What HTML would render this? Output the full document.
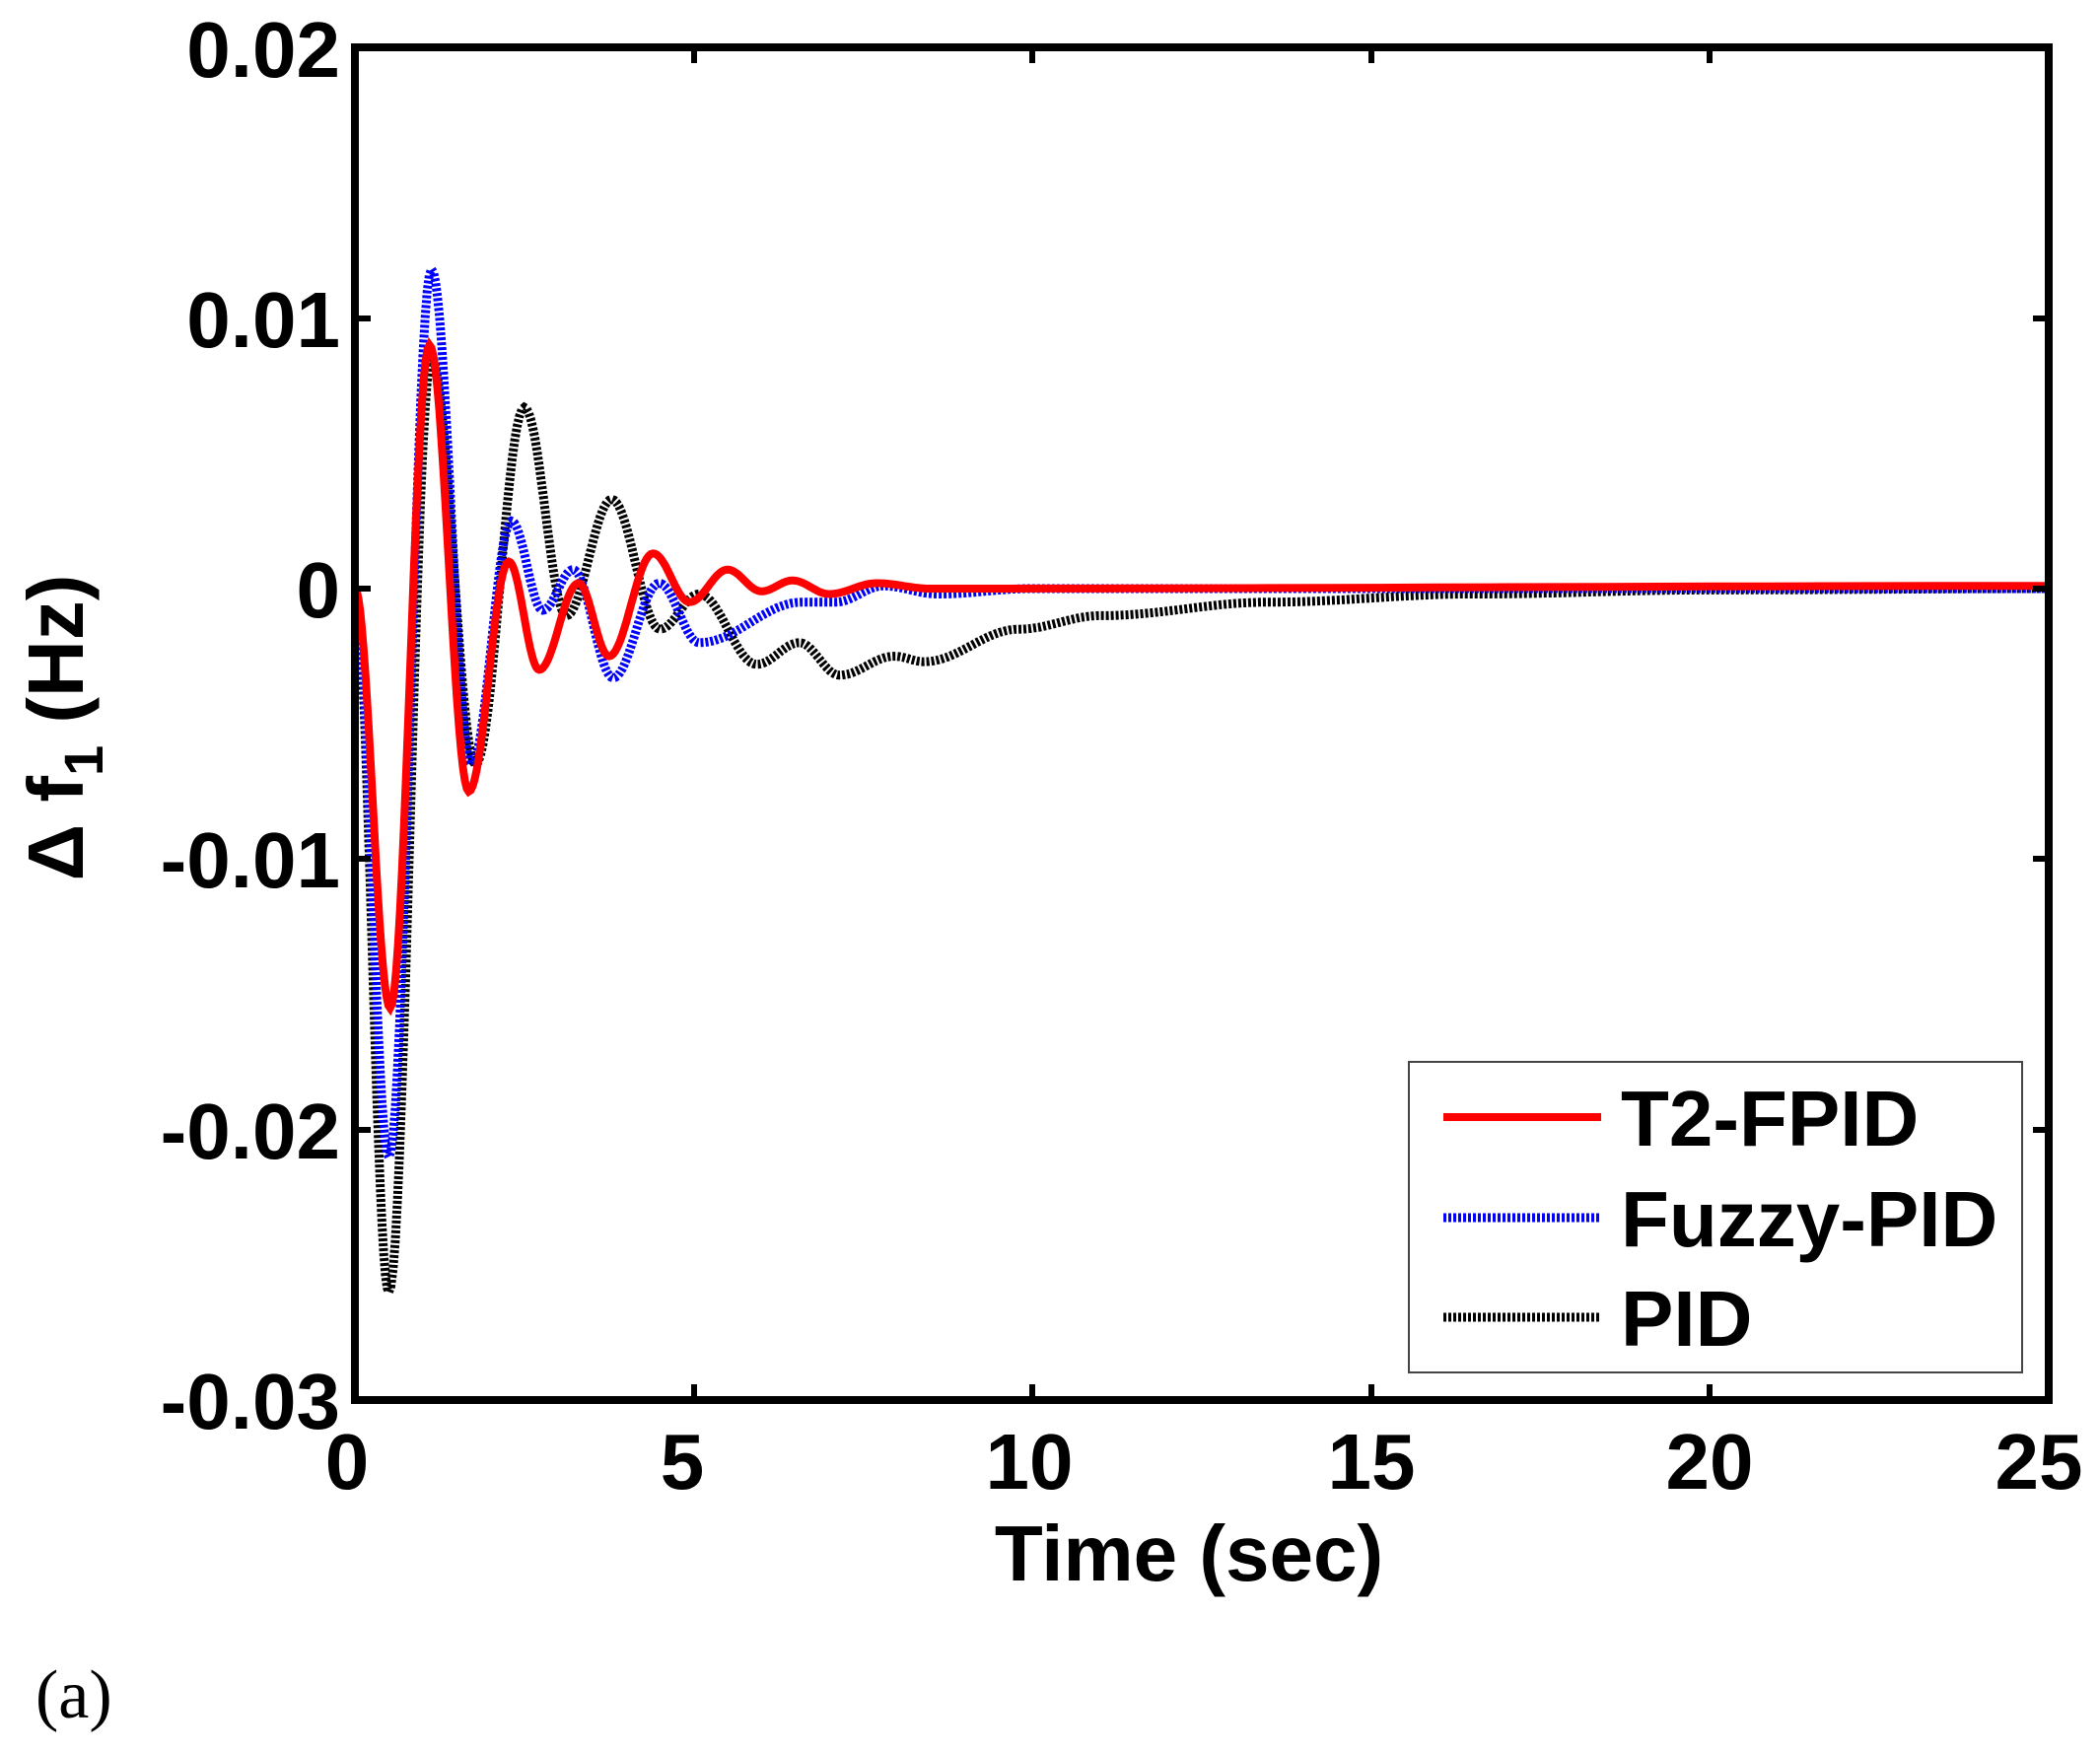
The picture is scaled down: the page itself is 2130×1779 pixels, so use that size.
<!DOCTYPE html>
<html><head><meta charset="utf-8"><style>
html,body{margin:0;padding:0;background:#fff;}
svg{display:block;}
text{font-family:"Liberation Sans",Arial,sans-serif;font-weight:bold;fill:#000;}
</style></head><body>
<svg id="s" width="2130" height="1779" viewBox="0 0 2130 1779" xmlns="http://www.w3.org/2000/svg">
<g id="curves"></g>
<rect x="360" y="48" width="1718" height="1372" fill="none" stroke="#000" stroke-width="8"/>
<g stroke="#000" stroke-width="6">
<line x1="360" y1="323" x2="376" y2="323"/><line x1="2078" y1="323" x2="2062" y2="323"/>
<line x1="360" y1="597" x2="376" y2="597"/><line x1="2078" y1="597" x2="2062" y2="597"/>
<line x1="360" y1="871" x2="376" y2="871"/><line x1="2078" y1="871" x2="2062" y2="871"/>
<line x1="360" y1="1146" x2="376" y2="1146"/><line x1="2078" y1="1146" x2="2062" y2="1146"/>
<line x1="704" y1="1420" x2="704" y2="1404"/><line x1="704" y1="48" x2="704" y2="64"/>
<line x1="1047" y1="1420" x2="1047" y2="1404"/><line x1="1047" y1="48" x2="1047" y2="64"/>
<line x1="1391" y1="1420" x2="1391" y2="1404"/><line x1="1391" y1="48" x2="1391" y2="64"/>
<line x1="1734" y1="1420" x2="1734" y2="1404"/><line x1="1734" y1="48" x2="1734" y2="64"/>
</g>
<g font-size="80" text-anchor="end">
<text x="345" y="78">0.02</text>
<text x="345" y="352">0.01</text>
<text x="345" y="626">0</text>
<text x="345" y="900">-0.01</text>
<text x="345" y="1175">-0.02</text>
<text x="345" y="1449">-0.03</text>
</g>
<g font-size="80" text-anchor="middle">
<text x="352" y="1510">0</text>
<text x="692" y="1510">5</text>
<text x="1044" y="1510">10</text>
<text x="1391" y="1510">15</text>
<text x="1734" y="1510">20</text>
<text x="2068" y="1510">25</text>
<text x="1206" y="1603">Time (sec)</text>
</g>
<g transform="translate(84,738) rotate(-90)" font-size="80">
<text x="0" y="0" text-anchor="middle">Δ f<tspan font-size="56" dy="20">1</tspan><tspan dy="-20"> (Hz)</tspan></text>
</g>
<text x="36" y="1742" font-size="70" style="font-family:'Liberation Serif',serif;font-weight:normal">(a)</text>
<rect x="1429" y="1077" width="622" height="315" fill="#fff" stroke="#444" stroke-width="2"/>
<line x1="1464" y1="1133" x2="1624" y2="1133" stroke="#f00" stroke-width="8"/>
<line x1="1464" y1="1235" x2="1624" y2="1235" stroke="#00f" stroke-width="9" stroke-dasharray="3 2"/>
<line x1="1464" y1="1336" x2="1624" y2="1336" stroke="#000" stroke-width="9" stroke-dasharray="3 2"/>
<g font-size="80">
<text x="1644" y="1162">T2-FPID</text>
<text x="1644" y="1264">Fuzzy-PID</text>
<text x="1644" y="1365">PID</text>
</g>
</svg>
<script>
var X=function(t){return 360+t*68.72;}, Y=function(v){return 597-v*27440;};
function build(k){var p=[];for(var i=0;i<k.length-1;i++){var a=k[i],b=k[i+1];var n=20;for(var j=0;j<n;j++){var u=j/n;var w=(1-Math.cos(Math.PI*u))/2;p.push(X(a[0]+(b[0]-a[0])*u).toFixed(1)+","+Y(a[1]+(b[1]-a[1])*w).toFixed(1));}}var l=k[k.length-1];p.push(X(l[0]).toFixed(1)+","+Y(l[1]).toFixed(1));return p.join(" ");}
var black=[[0,0],[0.5,-0.026],[1.13,0.0085],[1.78,-0.0065],[2.5,0.0067],[3.12,-0.001],[3.79,0.0033],[4.5,-0.0015],[5.08,-0.0002],[5.93,-0.0028],[6.56,-0.002],[7.15,-0.0032],[7.96,-0.0025],[8.4,-0.0027],[9.8,-0.0015],[11,-0.001],[13.5,-0.0005],[16.5,-0.0002],[20,-0.00005],[25,0]];
var blue=[[0,0],[0.5,-0.021],[1.13,0.0118],[1.72,-0.0065],[2.31,0.0025],[2.77,-0.0008],[3.22,0.0007],[3.81,-0.0033],[4.49,0.0002],[5.08,-0.002],[6.6,-0.0005],[7.1,-0.0005],[7.8,0.0001],[8.6,-0.0002],[10,0],[25,0]];
var red=[[0,0],[0.52,-0.0155],[1.1,0.009],[1.68,-0.0075],[2.27,0.001],[2.72,-0.003],[3.3,0.0002],[3.75,-0.0025],[4.4,0.0013],[4.94,-0.0005],[5.5,0.0007],[6.0,-0.0001],[6.46,0.0003],[7.0,-0.0002],[7.7,0.0002],[8.5,0],[25,0.0001]];
var g=document.getElementById("curves"),ns="http://www.w3.org/2000/svg";
function add(k,c,w,d){var e=document.createElementNS(ns,"polyline");e.setAttribute("points",build(k));e.setAttribute("fill","none");e.setAttribute("stroke",c);e.setAttribute("stroke-width",w);if(d)e.setAttribute("stroke-dasharray",d);g.appendChild(e);}
add(black,"#000",9,"3 2");add(blue,"#00f",9,"3 2");add(red,"#f00",8,null);
</script>
</body></html>
